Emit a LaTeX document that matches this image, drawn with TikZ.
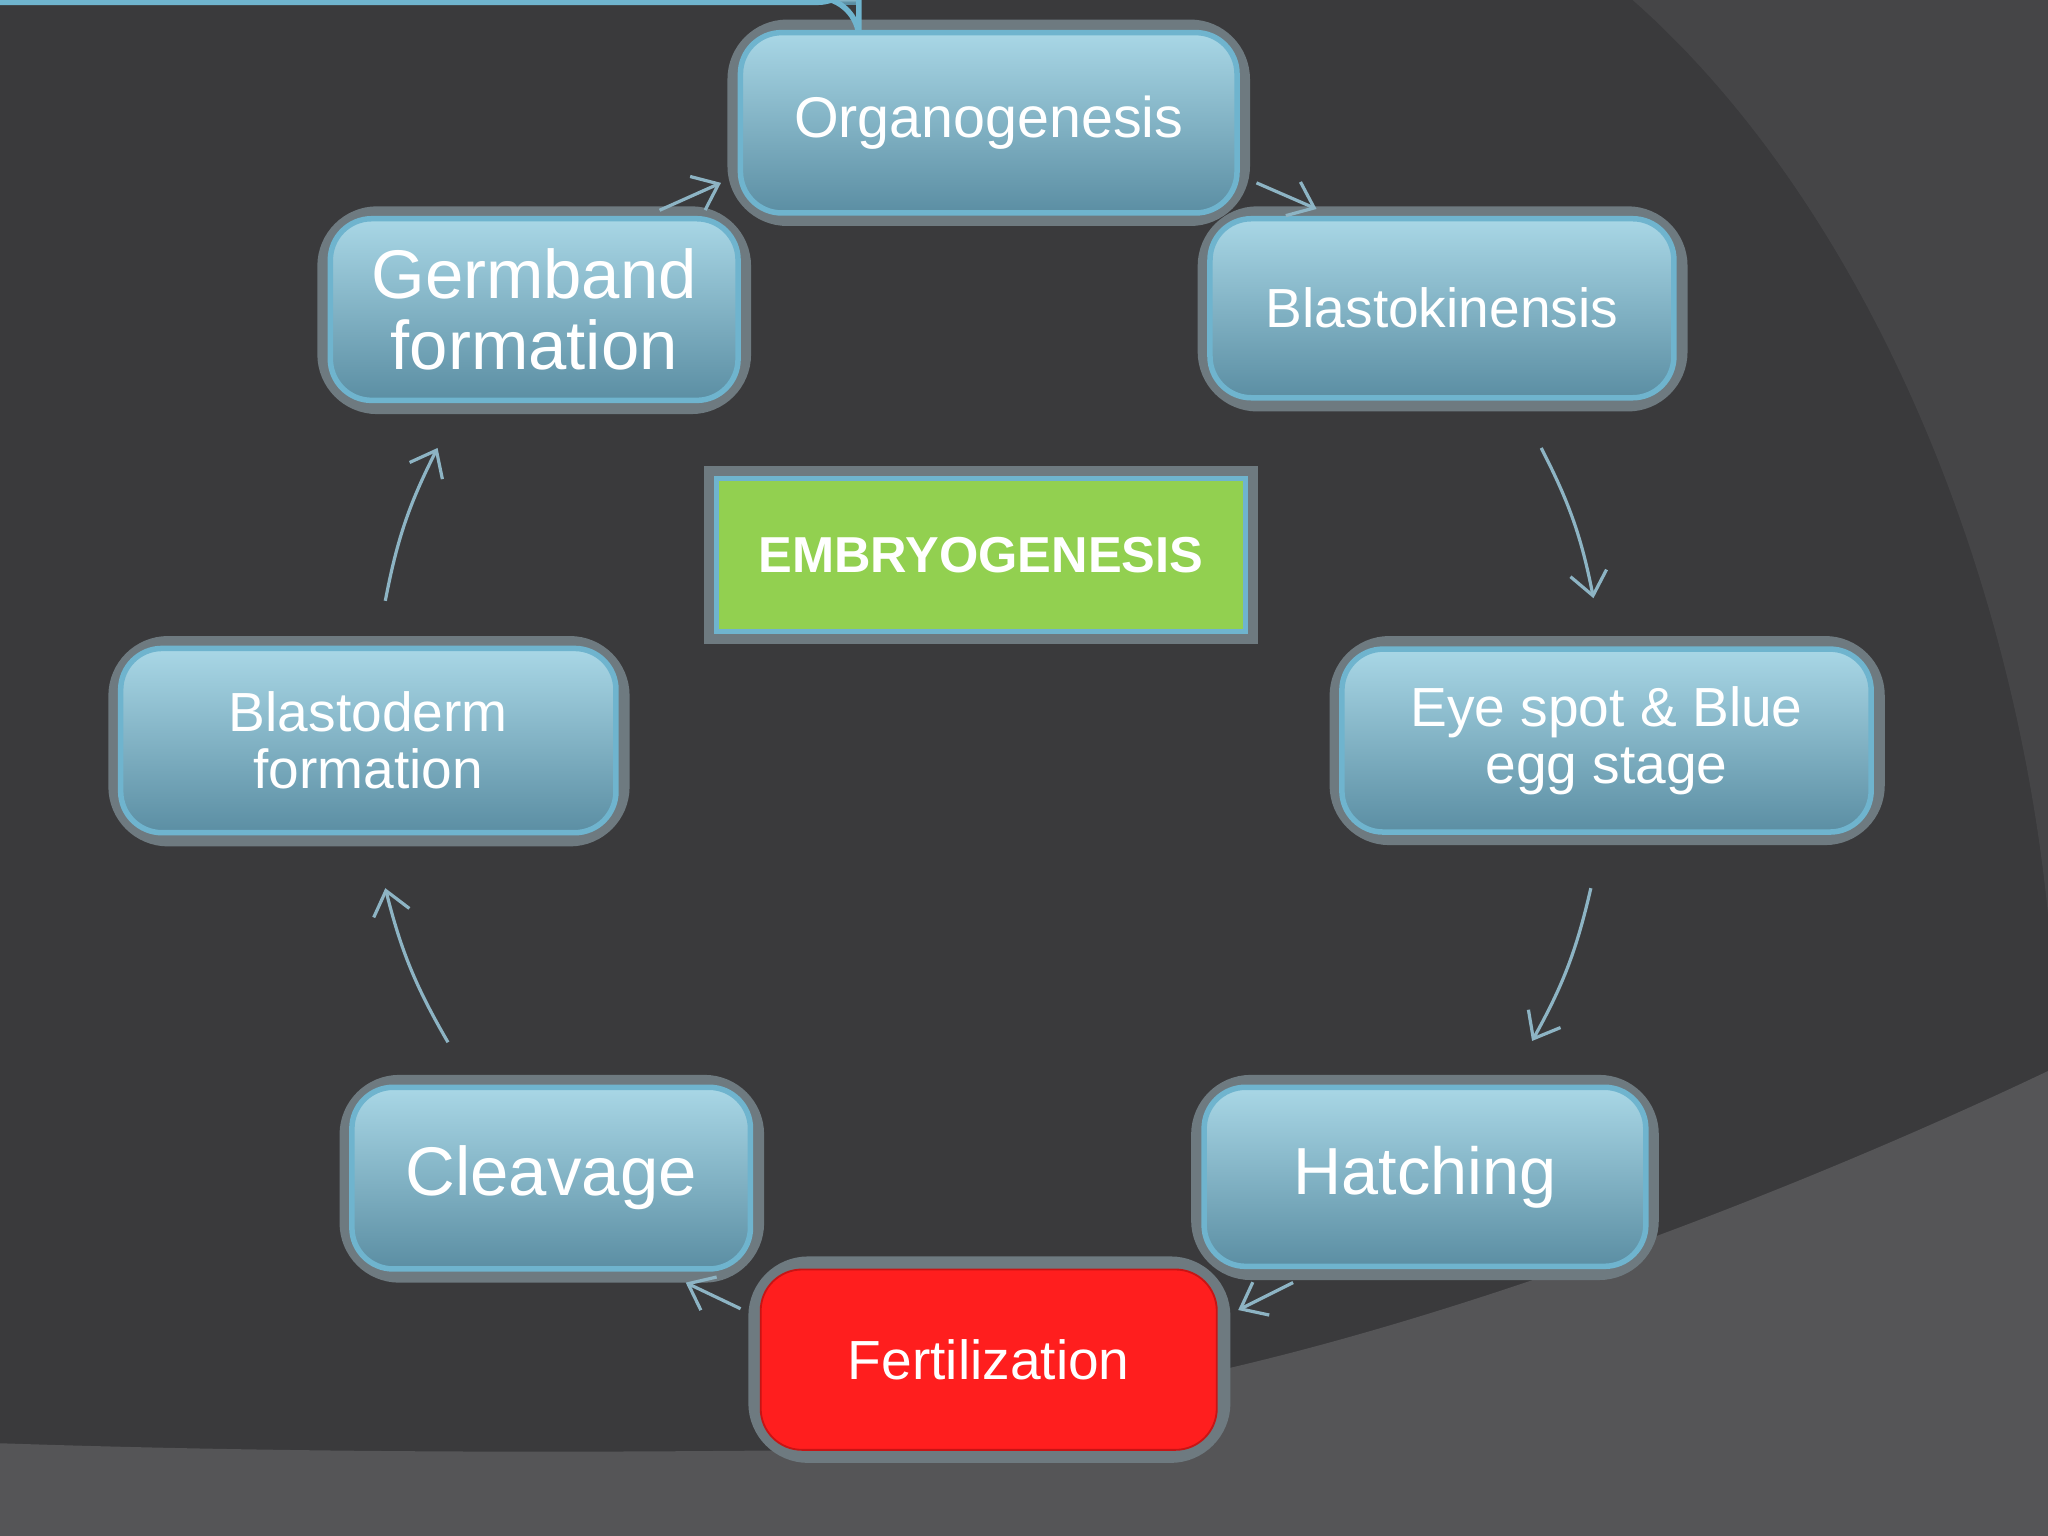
\documentclass[tikz,border=0pt]{standalone}
\usepackage{fontspec}
\setmainfont{Liberation Sans}
\usetikzlibrary{arrows.meta}
\begin{document}
\begin{tikzpicture}[x=0.01cm,y=-0.01cm,
  stage/.style={rounded corners=9pt, top color=bluetop, bottom color=bluebot, draw=bluebrd, line width=1.2pt, text=white, align=center, inner sep=0pt},
  glow/.style={rounded corners=11pt, draw=glowc, line width=4pt},
  conn/.style={draw=arrc, line width=0.7pt, -{Straight Barb[length=5pt,width=8pt]}}]
\definecolor{bg}{HTML}{3A3A3C}
\definecolor{bg2}{HTML}{454547}
\definecolor{bg3}{HTML}{555557}
\definecolor{bluetop}{HTML}{A9D7E6}
\definecolor{bluebot}{HTML}{5B8EA3}
\definecolor{bluebrd}{HTML}{6FB4CE}
\definecolor{glowc}{HTML}{6E7A80}
\definecolor{arrc}{HTML}{8DB4C4}
\fill[bg] (0,0) rectangle (1568,1176);
\fill[bg2] (1250,0) .. controls (1420,150) and (1540,420) .. (1568,700) -- (1568,0) -- cycle;
\fill[bg3] (930,1050) .. controls (1150,1000) and (1400,900) .. (1568,820) -- (1568,1176) -- (930,1176) -- cycle;
\fill[bg3] (0,1105) .. controls (300,1115) and (600,1112) .. (940,1105) -- (940,1176) -- (0,1176) -- cycle;
\useasboundingbox (0,0) rectangle (1568,1176);
% glows
\foreach \a/\b/\c/\d in {567/25/947/163, 927/168/1282/305, 253/168/565/307, 93/497/472/638, 1028/497/1433/637, 270/833/575/972, 922/833/1260/970, 583/972/932/1110}
  \draw[glow] (\a-3,\b-3) rectangle (\c+3,\d+3);
\node[stage, minimum width=374pt*0.2845/0.2845*0.01cm/0.01cm] at (0,0) {};
\node[stage, minimum width=3.8cm, minimum height=1.38cm, font=\fontsize{12.5}{14}\selectfont] (org) at (757,94) {Organogenesis};
\node[stage, minimum width=3.55cm, minimum height=1.37cm, font=\fontsize{12}{14}\selectfont] (bk) at (1104,236) {Blastokinensis};
\node[stage, minimum width=3.12cm, minimum height=1.39cm, font=\fontsize{15}{15.5}\selectfont] (gb) at (409,237) {Germband\\formation};
\node[stage, minimum width=3.79cm, minimum height=1.41cm, font=\fontsize{12}{12.5}\selectfont] (bd) at (282,567) {Blastoderm\\formation};
\node[stage, minimum width=4.05cm, minimum height=1.40cm, font=\fontsize{12}{12.5}\selectfont] (eye) at (1230,567) {Eye spot \& Blue\\egg stage};
\node[stage, minimum width=3.05cm, minimum height=1.39cm, font=\fontsize{15}{16}\selectfont] (clv) at (422,902) {Cleavage};
\node[stage, minimum width=3.38cm, minimum height=1.37cm, font=\fontsize{14.5}{16}\selectfont] (hat) at (1091,901) {Hatching};
\node[rounded corners=9pt, fill={rgb,255:red,255;green,30;blue,30}, draw={rgb,255:red,200;green,20;blue,20}, text=white, minimum width=3.49cm, minimum height=1.38cm, inner sep=0pt, font=\fontsize{12}{14}\selectfont] (fer) at (757,1041) {Fertilization};
\draw[glowc, line width=3pt] (544,362) rectangle (958,488);
\node[fill={rgb,255:red,146;green,208;blue,80}, draw=bluebrd, line width=1pt, minimum width=4.05cm, minimum height=1.17cm, text=white, font=\bfseries\fontsize{11}{13}\selectfont] (emb) at (751,425) {EMBRYOGENESIS};
% connectors
\coordinate (a1) at (505,161); \coordinate (a2) at (552,140);
\coordinate (b1) at (962,140); \coordinate (b2) at (1008,160);
\coordinate (c1) at (1180,343); \coordinate (c2) at (1220,458);
\coordinate (d1) at (1218,680); \coordinate (d2) at (1173,797);
\coordinate (e1) at (990,982); \coordinate (e2) at (948,1003);
\coordinate (f1) at (567,1002); \coordinate (f2) at (525,982);
\coordinate (g1) at (343,798); \coordinate (g2) at (295,680);
\coordinate (h1) at (295,460); \coordinate (h2) at (335,343);
\draw[conn] (a1) -- (a2);
\draw[conn] (b1) -- (b2);
\draw[conn] (c1) to[bend left=8] (c2);
\draw[conn] (d1) to[bend left=8] (d2);
\draw[conn] (e1) -- (e2);
\draw[conn] (f1) -- (f2);
\draw[conn] (g1) to[bend left=8] (g2);
\draw[conn] (h1) to[bend left=8] (h2);
\end{tikzpicture}
\end{document}
